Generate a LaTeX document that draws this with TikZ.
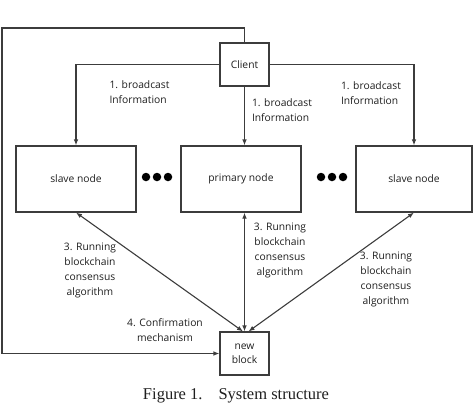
\documentclass[tikz,border=0pt]{standalone}
\usepackage{fontspec}
\setmainfont{Open Sans}
\newfontfamily\capfont{Liberation Serif}
\usetikzlibrary{arrows.meta}
\definecolor{ln}{HTML}{3C3C3C}
\definecolor{tx}{HTML}{1E1E1E}
\tikzset{
  box/.style={draw=ln, line width=1.1pt, inner sep=0pt, text=tx, font=\fontsize{10.3}{12}\selectfont, align=center},
  conn/.style={draw=ln, line width=1.1pt},
  arr/.style={conn, -{Latex[length=6pt,width=4.6pt]}},
  darr/.style={conn, {Latex[length=6pt,width=4.6pt]}-{Latex[length=6pt,width=4.6pt]}},
  lbl/.style={text=tx, inner sep=0pt, font=\fontsize{10.3}{15}\selectfont},
  dot/.style={circle, fill=black, inner sep=0pt, minimum size=8.5pt},
}
\begin{document}
\begin{tikzpicture}[x=1pt,y=-1pt]
\useasboundingbox (0,0) rectangle (474,407);
% boxes
\node[box, minimum width=49pt, minimum height=43pt] (client) at (244.5,64.5) {Client};
\node[box, minimum width=120pt, minimum height=66pt] (slaveA) at (76,179) {slave node};
\node[box, minimum width=120pt, minimum height=66pt] (primary) at (241,179) {primary node};
\node[box, minimum width=116pt, minimum height=66pt] (slaveB) at (414,179) {slave node};
\node[box, minimum width=49pt, minimum height=43pt, font=\fontsize{10.3}{14}\selectfont] (newblock) at (244.5,353.5) {new\\block};
% dots
\node[dot] (d1) at (146,177) {};
\node[dot] (d2) at (157,177) {};
\node[dot] (d3) at (168,177) {};
\node[dot] (d4) at (321,177) {};
\node[dot] (d5) at (332,177) {};
\node[dot] (d6) at (343,177) {};
% loop
\coordinate (tl) at (2,28);
\draw[arr] (client.north) |- (tl) |- (newblock.west);
% broadcast
\draw[arr] (client.west) -| (slaveA.north);
\draw[arr] (client.east) -| (slaveB.north);
\draw[arr] (client.south) -- (client.south |- primary.north);
% consensus
\draw[darr] (slaveA.south) -- ([xshift=-1.5pt]newblock.north);
\draw[darr] (newblock.north) -- (newblock.north |- primary.south);
\draw[darr] ([xshift=4pt]newblock.north) -- (slaveB.south);
% labels
\node[lbl, align=left] (l1a) at (139.5,92) {1. broadcast\\Information};
\node[lbl, align=left] (l1b) at (282,110) {1. broadcast\\Information};
\node[lbl, align=left] (l1c) at (371,93.5) {1. broadcast\\Information};
\node[lbl, align=center] (l3a) at (90,270) {3. Running\\blockchain\\consensus\\algorithm};
\node[lbl, align=center] (l3b) at (280,250.5) {3. Running\\blockchain\\consensus\\algorithm};
\node[lbl, align=center] (l3c) at (386,279.5) {3. Running\\blockchain\\consensus\\algorithm};
\node[lbl, align=center] (l4) at (165,330.5) {4. Confirmation\\mechanism};
% caption
\node[inner sep=0pt, text=tx, font=\capfont\fontsize{16.5}{18}\selectfont] (cap) at (236,396) {Figure 1.\hspace{16pt}System structure};
\end{tikzpicture}
\end{document}
